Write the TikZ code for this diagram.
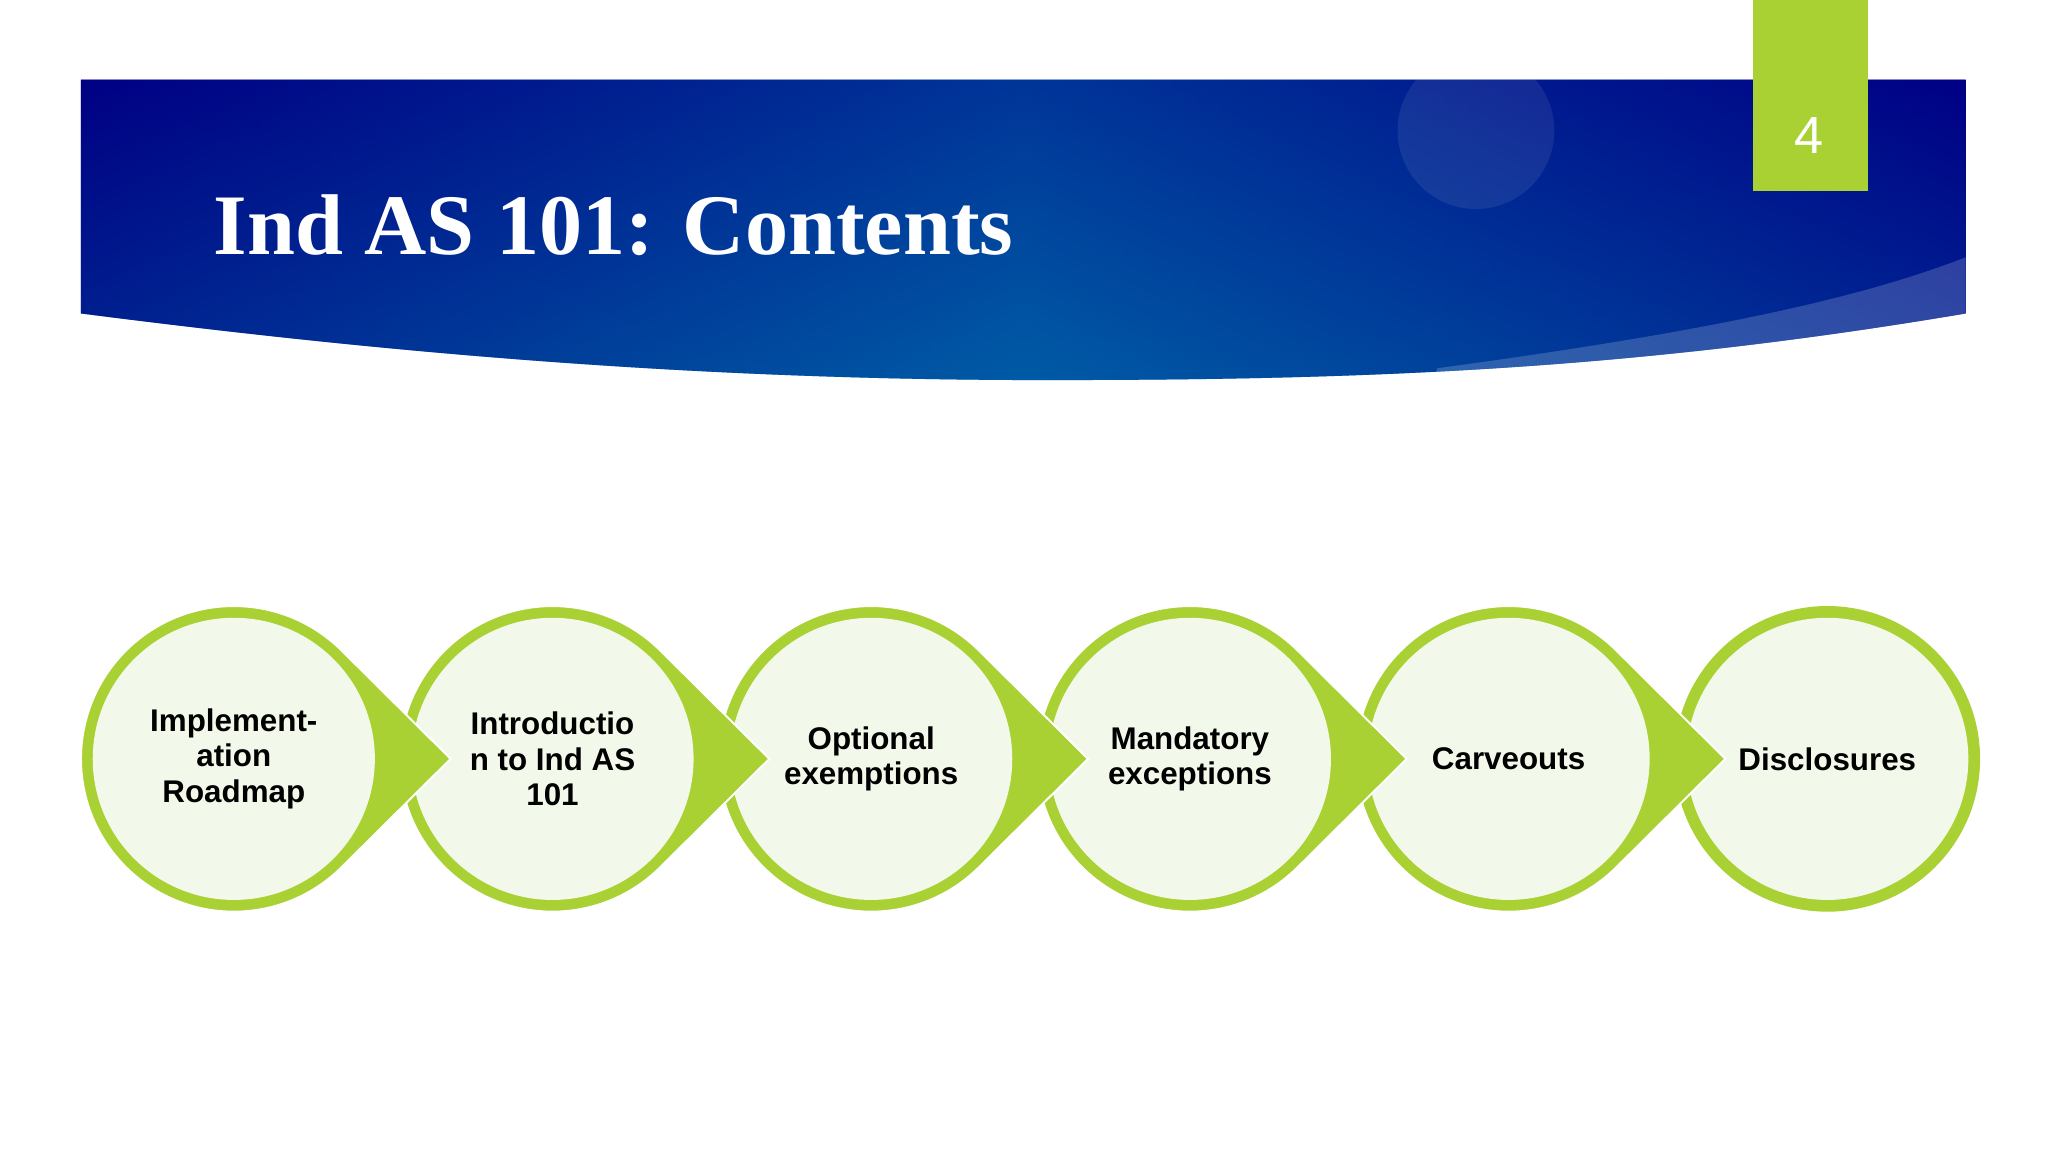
\documentclass[tikz,border=0pt]{standalone}
\usepackage{fontspec}
\usetikzlibrary{calc}
\setmainfont{Liberation Serif}
\newfontfamily\arialb{Liberation Sans}
\definecolor{lg}{HTML}{A9D134}
\definecolor{pale}{HTML}{F3F9EA}
\begin{document}
\begin{tikzpicture}[x=1pt,y=-1pt,
  lbl/.style={font=\arialb\bfseries\fontsize{24}{27}\selectfont,align=center,text=black}]
\useasboundingbox[fill=white] (0,0) rectangle (1568,882);
% header band
\begin{scope}
\clip (62,61) -- (1505,61) -- (1505,240) .. controls (1250,283) and (1050,291) .. (800,291) .. controls (520,291) and (280,268) .. (62,240) -- cycle;
\shade[left color=black!10!blue!60!black, right color=blue!55!black, middle color=cyan!60!blue!70!black] (62,61) rectangle (1505,292);
\shade[top color=blue!50!black, bottom color=cyan!50!blue!60!black, opacity=0.5] (62,61) rectangle (1505,292);
\fill[white,opacity=0.18] (1100,282) .. controls (1300,255) and (1420,230) .. (1505,197) -- (1505,245) -- (1100,292) -- cycle;
\fill[white,opacity=0.08] (1130,100) circle (60);
\end{scope}
\node[anchor=base west,text=white,font=\bfseries\fontsize{66}{70}\selectfont] (title) at (160,195) {Ind AS 101: Contents};
% tab
\fill[lg] (1342,0) rectangle (1430,146);
\node[text=white,font=\arialb\fontsize{40}{44}\selectfont] (num) at (1385,104) {4};
% circles, right to left
\foreach \i/\t in {6/Disclosures,5/Carveouts,4/{Mandatory\\exceptions},3/{Optional\\exemptions},2/{Introductio\\n to Ind AS\\101},1/{Implement-\\ation\\Roadmap}}{
  \pgfmathsetmacro{\cx}{179+244*(\i-1)}
  \ifnum\i<6
    \fill[lg,draw=white,line width=1.5pt] ($(\cx,581)+(45.7:117)$) -- (\cx+166,581) -- ($(\cx,581)+(-45.7:117)$) arc[start angle=-45.7,end angle=-314.3,radius=117] -- cycle;
  \else
    \fill[lg] (\cx,581) circle (117);
  \fi
  \fill[pale] (\cx,581) circle (108);
  \node[lbl] (c\i) at (\cx,581) {\t};
}
\end{tikzpicture}
\end{document}
